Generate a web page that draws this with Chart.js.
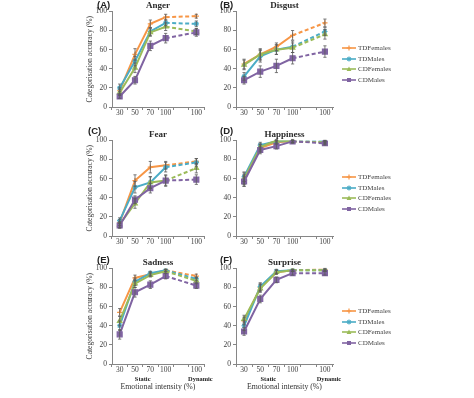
<!DOCTYPE html>
<html>
<head>
<meta charset="utf-8">
<script src="https://cdn.jsdelivr.net/npm/chart.js@4.4.0/dist/chart.umd.min.js"></script>
<style>
  html, body { margin: 0; padding: 0; background: #fff; }
  #wrap { position: relative; width: 474px; height: 398px; overflow: hidden; font-family: "Liberation Serif", "Times New Roman", serif; }
  #wrap canvas { position: absolute; }
  .letter { position: absolute; font-family: "Liberation Sans", Arial, sans-serif; font-weight: bold; font-size: 9.5px; color: #222; line-height: 1; }
  .legend { position: absolute; font-size: 7px; color: #444; }
  .legend div { height: 10.7px; display: flex; align-items: center; }
  .legend svg { margin-right: 2px; }
</style>
</head>
<body>
<div id="wrap"></div>
<script>
// --- DATA ---
const seriesNames = ['TDFemales', 'TDMales', 'CDFemales', 'CDMales'];
const seriesColors = ['#F79646', '#4BACC6', '#9BBB59', '#8064A2'];
const seriesMarkers = ['cross', 'star', 'triangle', 'rect'];
const staticLabels = ['30', '50', '70', '100'];
const dynamicLabel = '100';
const panelTitles = ['Anger', 'Disgust', 'Fear', 'Happiness', 'Sadness', 'Surprise'];
const panelLetters = ['(A)', '(B)', '(C)', '(D)', '(E)', '(F)'];

// rows follow seriesNames; columns: static 30, 50, 70, 100, dynamic 100
const anger = [[17, 55, 87, 94, 95], [20, 48, 79, 88, 87], [15, 41, 78, 84, 79], [11, 28, 64, 72, 78]];
const angerErr = [[3, 6, 4, 3, 2], [4, 5, 4, 3, 3], [3, 5, 4, 4, 3], [2, 4, 5, 5, 4]];
const disgust = [[45, 55, 63, 75, 88], [32, 53, 60, 63, 79], [44, 55, 60, 62, 76], [28, 37, 43, 51, 58]];
const disgustErr = [[5, 6, 4, 5, 4], [4, 6, 5, 6, 4], [5, 5, 5, 5, 5], [4, 6, 7, 6, 6]];
const fear = [[14, 58, 72, 74, 78], [16, 51, 56, 72, 77], [12, 34, 56, 58, 71], [11, 38, 50, 58, 59]];
const fearErr = [[3, 6, 6, 4, 3], [3, 6, 6, 5, 4], [3, 5, 6, 6, 5], [3, 4, 5, 5, 5]];
const happiness = [[58, 92, 98, 99, 98], [62, 95, 99, 99, 99], [60, 93, 100, 99, 98], [57, 90, 94, 99, 97]];
const happinessErr = [[6, 4, 2, 1, 1], [5, 3, 1, 1, 1], [6, 3, 1, 1, 2], [5, 4, 3, 2, 2]];
const sadness = [[54, 90, 94, 98, 92], [40, 86, 95, 98, 89], [45, 84, 93, 97, 87], [31, 75, 83, 92, 82]];
const sadnessErr = [[4, 3, 2, 1, 2], [5, 4, 2, 1, 2], [5, 4, 2, 2, 3], [5, 5, 4, 3, 3]];
const surprise = [[45, 80, 96, 98, 99], [40, 81, 97, 98, 98], [47, 79, 96, 98, 98], [34, 68, 88, 95, 95]];
const surpriseErr = [[4, 4, 2, 1, 1], [5, 4, 2, 1, 1], [4, 4, 2, 1, 1], [4, 4, 3, 2, 2]];

const panelValues = [anger, disgust, fear, happiness, sadness, surprise];
const panelErrors = [angerErr, disgustErr, fearErr, happinessErr, sadnessErr, surpriseErr];

// --- LAYOUT ---
const colGeom = [
  { left: 82, width: 134, yW: 30, padRight: 12 },
  { left: 216, width: 127, yW: 20, padRight: 10 }
];
const rowGeom = [
  { top: 0, height: 119, xH: 12 },
  { top: 129, height: 119, xH: 12 },
  { top: 257, height: 141, xH: 34 }
];
const letterPos = [[97, 0], [220, 0], [88, 126], [220, 126], [97, 255], [220, 255]];
const legendTops = [42.6, 171.6, 305.6];

const serif = '"Liberation Serif", "Times New Roman", serif';
const textGray = '#404040';
const axisGray = '#868686';

// x slots: four static intensities, a gap, then the dynamic one
const xLabels = [...staticLabels, '', dynamicLabel];
const withGap = v => [...v.slice(0, 4), null, v[4]];

const errorBars = {
  id: 'errorBars',
  afterDatasetsDraw(chart) {
    const { ctx, scales: { y } } = chart;
    ctx.save();
    ctx.strokeStyle = '#5a5a5a';
    ctx.lineWidth = 0.8;
    chart.data.datasets.forEach((ds, i) => {
      const meta = chart.getDatasetMeta(i);
      ds.errors.forEach((e, j) => {
        if (e == null || ds.data[j] == null) return;
        const px = meta.data[j].x;
        const top = y.getPixelForValue(ds.data[j] + e);
        const bot = y.getPixelForValue(ds.data[j] - e);
        ctx.beginPath();
        ctx.moveTo(px, top); ctx.lineTo(px, bot);
        ctx.moveTo(px - 1.6, top); ctx.lineTo(px + 1.6, top);
        ctx.moveTo(px - 1.6, bot); ctx.lineTo(px + 1.6, bot);
        ctx.stroke();
      });
    });
    ctx.restore();
  }
};

function phasePlugin(show) {
  return {
    id: 'phaseLabels',
    afterDraw(chart) {
      if (!show) return;
      const { ctx, scales: { x }, chartArea } = chart;
      ctx.save();
      ctx.font = 'bold 6.4px ' + serif;
      ctx.fillStyle = '#222';
      ctx.textAlign = 'center';
      ctx.textBaseline = 'middle';
      const yy = chartArea.bottom + 15;
      ctx.fillText('Static', (x.getPixelForValue(0) + x.getPixelForValue(3)) / 2, yy);
      ctx.fillText('Dynamic', x.getPixelForValue(5) + 4, yy);
      ctx.restore();
    }
  };
}

const wrap = document.getElementById('wrap');

panelTitles.forEach((title, p) => {
  const row = Math.floor(p / 2), col = p % 2;
  const cg = colGeom[col], rg = rowGeom[row];

  const canvas = document.createElement('canvas');
  canvas.width = cg.width;
  canvas.height = rg.height;
  canvas.style.left = cg.left + 'px';
  canvas.style.top = rg.top + 'px';
  wrap.appendChild(canvas);

  const letter = document.createElement('div');
  letter.className = 'letter';
  letter.textContent = panelLetters[p];
  letter.style.left = letterPos[p][0] + 'px';
  letter.style.top = letterPos[p][1] + 'px';
  wrap.appendChild(letter);

  const datasets = seriesNames.map((name, s) => ({
    label: name,
    data: withGap(panelValues[p][s]),
    errors: withGap(panelErrors[p][s]),
    borderColor: seriesColors[s],
    backgroundColor: seriesColors[s],
    borderWidth: 2,
    pointStyle: seriesMarkers[s],
    pointRadius: seriesMarkers[s] === 'rect' ? 3.5 : 2.6,
    pointBorderWidth: 1.2,
    spanGaps: true,
    order: seriesNames.length - 1 - s,
    segment: { borderDash: ctx => ctx.p1DataIndex === 5 ? [4, 2.5] : undefined }
  }));

  new Chart(canvas, {
    type: 'line',
    data: { labels: xLabels, datasets },
    options: {
      responsive: false,
      animation: false,
      layout: { padding: { left: 0, right: cg.padRight, top: 0, bottom: 0 } },
      plugins: {
        legend: { display: false },
        tooltip: { enabled: false },
        title: {
          display: true, text: title, fullSize: false, color: '#2a2a2a',
          font: { family: serif, size: 9, weight: 'bold' },
          padding: { top: 0, bottom: 0.6 }
        }
      },
      scales: {
        x: {
          offset: true,
          grid: { drawOnChartArea: false, offset: true, tickLength: 3, color: axisGray },
          border: { color: axisGray },
          ticks: { font: { family: serif, size: 7.5 }, color: textGray, padding: -1, maxRotation: 0, autoSkip: false },
          afterFit: s => { s.height = rg.xH; },
          title: {
            display: row === 2, text: 'Emotional intensity (%)', color: '#333',
            font: { family: serif, size: 7.8 }, padding: { top: 0, bottom: 6.3 }
          }
        },
        y: {
          min: 0, max: 100,
          grid: { drawOnChartArea: false, tickLength: 3, color: axisGray },
          border: { color: axisGray },
          ticks: { stepSize: 10, font: { family: serif, size: 7.5 }, color: textGray, padding: 2 },
          afterFit: s => { s.width = cg.yW; },
          title: {
            display: col === 0, text: 'Categorisation accuracy (%)', color: '#333',
            font: { family: serif, size: 7.6 }, padding: { top: 3, bottom: 0 }
          }
        }
      }
    },
    plugins: [errorBars, phasePlugin(row === 2)]
  });
});

// --- LEGENDS (right of each row) ---
function markerSvg(shape, color) {
  let m = '';
  if (shape === 'cross') m = `<path d="M4.6 4H9.4M7 1.6V6.4" stroke="${color}" stroke-width="1.2"/>`;
  else if (shape === 'star') m = `<path d="M4.6 4H9.4M7 1.6V6.4M5.3 2.3L8.7 5.7M8.7 2.3L5.3 5.7" stroke="${color}" stroke-width="1.1"/>`;
  else if (shape === 'triangle') m = `<polygon points="7,1.6 9.4,5.9 4.6,5.9" fill="${color}"/>`;
  else m = `<rect x="5" y="2" width="4" height="4" fill="${color}"/>`;
  return `<svg width="14" height="8"><line x1="0" y1="4" x2="14" y2="4" stroke="${color}" stroke-width="1.6"/>${m}</svg>`;
}

legendTops.forEach(top => {
  const lg = document.createElement('div');
  lg.className = 'legend';
  lg.style.left = '342px';
  lg.style.top = top + 'px';
  lg.innerHTML = seriesNames.map((n, s) =>
    `<div>${markerSvg(seriesMarkers[s], seriesColors[s])}<span>${n}</span></div>`).join('');
  wrap.appendChild(lg);
});
</script>
</body>
</html>
